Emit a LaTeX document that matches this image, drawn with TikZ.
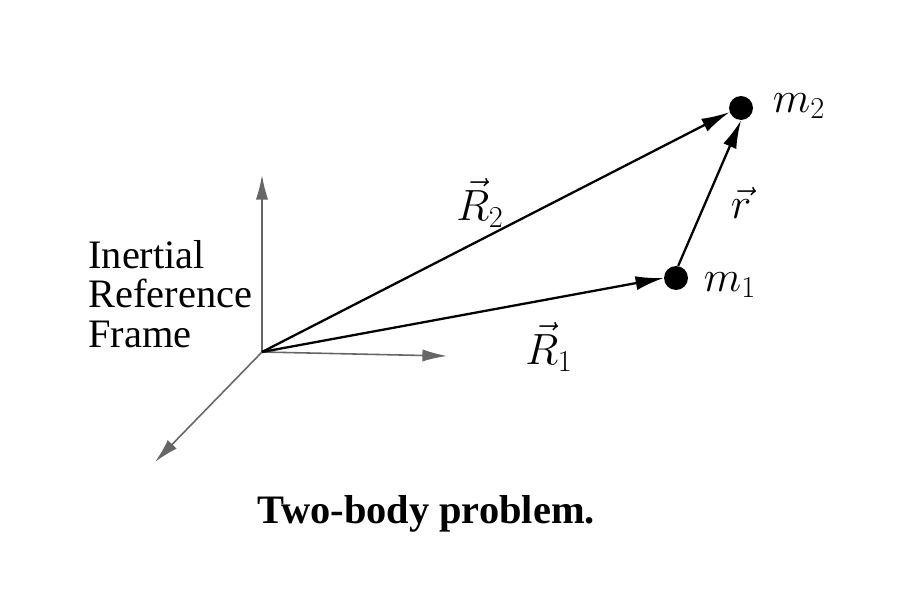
\documentclass[tikz,border=0pt]{standalone}
\usepackage{fontspec}
\setmainfont{Liberation Serif}
\usetikzlibrary{arrows.meta}
\begin{document}
\begin{tikzpicture}[x=0.02cm,y=-0.02cm,
  axis/.style={draw=black!60,line width=0.9pt,-{Latex[length=14pt,width=7pt]}},
  vec/.style={draw=black,line width=1.3pt,-{Latex[length=16pt,width=8pt]}},
  mass/.style={circle,fill=black,inner sep=0pt,minimum size=24*0.567pt},
  lab/.style={font=\fontsize{23}{26}\selectfont}]
\useasboundingbox (0,0) rectangle (908,604);
\coordinate (O) at (262,352);
\coordinate (ax1) at (262,175);
\coordinate (ax2) at (447,356);
\coordinate (ax3) at (155,462);
\node[mass] (m1) at (676,278) {};
\node[mass] (m2) at (741,108) {};
\draw[axis] (O) -- (ax1);
\draw[axis] (O) -- (ax2);
\draw[axis] (O) -- (ax3);
\draw[vec] (O) -- (m2.200);
\draw[vec] (O) -- (m1.west);
\draw[vec] (m1.80) -- (m2.south);
\node[lab] (lR2) at (480,203) {$\vec{R}_2$};
\node[lab] (lR1) at (549,347) {$\vec{R}_1$};
\node[lab] (lr) at (741,203) {$\vec{r}$};
\node[lab] (lm1) at (730,285) {$m_1$};
\node[lab] (lm2) at (799,106) {$m_2$};
\node[lab,anchor=north west,align=left,inner sep=0pt,font=\fontsize{23}{22.5}\selectfont] (frame) at (88,240) {Inertial\\Reference\\Frame};
\node[font=\fontsize{23}{26}\selectfont\bfseries] (cap) at (426,514) {Two-body problem.};
\end{tikzpicture}
\end{document}
